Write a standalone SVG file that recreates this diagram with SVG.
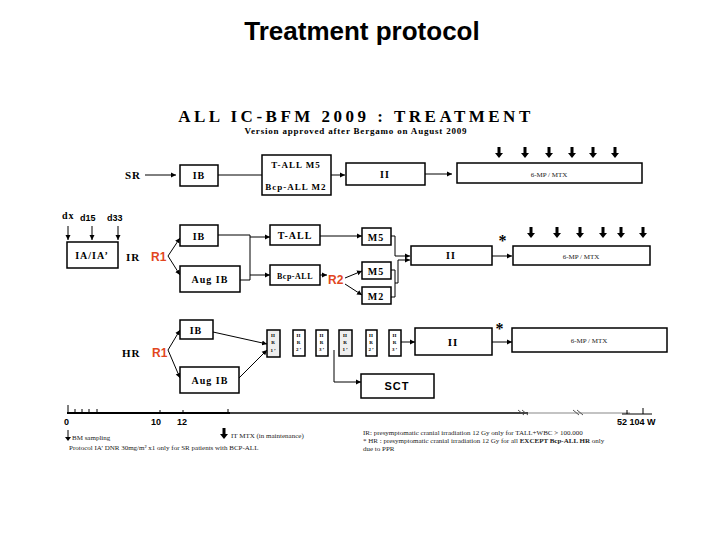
<svg xmlns="http://www.w3.org/2000/svg" width="728" height="546" viewBox="0 0 728 546">
<style>
.b{fill:#fff;stroke:#000;stroke-width:1.5}
.s{font-family:"Liberation Serif",serif;font-weight:bold;fill:#000;letter-spacing:1px}
.a{font-family:"Liberation Sans",sans-serif;font-weight:bold}
.l{fill:none;stroke:#000;stroke-width:1}
.m{marker-end:url(#ar)}
.r{fill:#e2461e;font-family:"Liberation Sans",sans-serif;font-weight:bold;font-size:12px}
.n{font-family:"Liberation Serif",serif;font-size:7px;fill:#222}
</style>
<defs>
<marker id="ar" markerWidth="6" markerHeight="6" refX="5" refY="3" orient="auto" markerUnits="userSpaceOnUse"><path d="M0,0.5L5,3L0,5.5z" fill="#000"/></marker>
<g id="da"><rect x="-1.5" y="0" width="3" height="7" fill="#000"/><path d="M-4,6L4,6L0,11z" fill="#000"/></g>
</defs>
<rect width="728" height="546" fill="#fff"/>
<text x="362" y="40" text-anchor="middle" class="a" font-size="26" fill="#000">Treatment protocol</text>
<text x="356" y="122" text-anchor="middle" class="s" font-size="17" style="letter-spacing:3.5px">ALL IC-BFM 2009 : TREATMENT</text>
<text x="356" y="134" text-anchor="middle" class="s" font-size="9" style="letter-spacing:0.8px">Version approved after Bergamo  on August 2009</text>

<g id="connectors">
<path class="l m" d="M145,175H176"/>
<path class="l" d="M218,175H262"/>
<path class="l m" d="M331,175H345"/>
<path class="l m" d="M425,174H452"/>
<path class="l m" d="M68,226V240"/>
<path class="l m" d="M92,226V240"/>
<path class="l m" d="M118,226V240"/>
<path class="l m" d="M168,256L180,238"/>
<path class="l m" d="M168,256L180,275"/>
<path class="l" d="M218,235H250V280M240,280H250"/>
<path class="l m" d="M250,237H270"/>
<path class="l m" d="M250,275H270"/>
<path class="l m" d="M320,236H362"/>
<path class="l m" d="M320,275H327"/>
<path class="l m" d="M345,278L362,271"/>
<path class="l m" d="M345,284L362,295"/>
<path class="l m" d="M391,236H395V256H410"/>
<path class="l" d="M391,270H395V297H391M395,283H398"/>
<path class="l m" d="M398,283V260H410"/>
<path class="l m" d="M492,256H512"/>
<path class="l m" d="M168,350L180,330"/>
<path class="l m" d="M168,350L180,378"/>
<path class="l m" d="M213,332L267,344"/>
<path class="l m" d="M239,378L267,350"/>
<path class="l m" d="M401,342H415"/>
<path class="l m" d="M492,342H512"/>
<path class="l m" d="M334,350V382H361"/>
</g>

<use href="#da" x="499" y="147"/><use href="#da" x="525" y="147"/><use href="#da" x="549" y="147"/><use href="#da" x="572" y="147"/><use href="#da" x="593" y="147"/><use href="#da" x="615" y="147"/>
<use href="#da" x="531" y="227"/><use href="#da" x="557" y="227"/><use href="#da" x="580" y="227"/><use href="#da" x="603" y="227"/><use href="#da" x="621" y="227"/><use href="#da" x="643" y="227"/>

<text x="125" y="179" class="s" font-size="11">SR</text>
<g id="sr-ib"><rect class="b" x="180" y="165" width="38" height="21"/><text x="199" y="179" text-anchor="middle" class="s" font-size="10">IB</text></g>
<g id="sr-m"><rect class="b" x="262" y="155" width="69" height="40"/><text x="296" y="168" text-anchor="middle" class="s" font-size="9">T-ALL  M5</text><text x="296" y="190" text-anchor="middle" class="s" font-size="9">Bcp-ALL  M2</text></g>
<g id="sr-ii"><rect class="b" x="346" y="163" width="79" height="22"/><text x="385" y="178" text-anchor="middle" class="s" font-size="10">II</text></g>
<g id="sr-mp"><rect class="b" x="457" y="163" width="185" height="20"/><text x="549" y="177" text-anchor="middle" class="n" font-size="8">6-MP / MTX</text></g>

<text x="62" y="219" class="s" font-size="10">dx</text>
<text x="80" y="221" class="a" font-size="9">d15</text>
<text x="107" y="221" class="a" font-size="9">d33</text>
<g id="ia"><rect class="b" x="67" y="242" width="51" height="26"/><text x="92" y="259" text-anchor="middle" class="s" font-size="10">IA/IA’</text></g>
<text x="126" y="261" class="s" font-size="11">IR</text>
<text x="151" y="261" class="r">R1</text>
<g id="ir-ib"><rect class="b" x="180" y="225" width="38" height="21"/><text x="199" y="240" text-anchor="middle" class="s" font-size="10">IB</text></g>
<g id="ir-aug"><rect class="b" x="180" y="266" width="60" height="26"/><text x="210" y="283" text-anchor="middle" class="s" font-size="10">Aug IB</text></g>
<g id="ir-t"><rect class="b" x="270" y="225" width="50" height="20"/><text x="295" y="239" text-anchor="middle" class="s" font-size="10">T-ALL</text></g>
<g id="ir-b"><rect class="b" x="270" y="265" width="50" height="20"/><text x="295" y="279" text-anchor="middle" class="s" font-size="8" style="letter-spacing:0.5px">Bcp-ALL</text></g>
<text x="328" y="284" class="r">R2</text>
<g id="ir-m5a"><rect class="b" x="362" y="228" width="29" height="17"/><text x="376" y="241" text-anchor="middle" class="s" font-size="10">M5</text></g>
<g id="ir-m5b"><rect class="b" x="362" y="262" width="29" height="17"/><text x="376" y="275" text-anchor="middle" class="s" font-size="10">M5</text></g>
<g id="ir-m2"><rect class="b" x="362" y="287" width="29" height="17"/><text x="376" y="300" text-anchor="middle" class="s" font-size="10">M2</text></g>
<g id="ir-ii"><rect class="b" x="411" y="246" width="81" height="19"/><text x="451" y="259" text-anchor="middle" class="s" font-size="10">II</text></g>
<text x="503" y="246" text-anchor="middle" class="s" font-size="16">*</text>
<g id="ir-mp"><rect class="b" x="513" y="246" width="137" height="19"/><text x="581" y="259" text-anchor="middle" class="n" font-size="8">6-MP / MTX</text></g>

<text x="122" y="357" class="s" font-size="11">HR</text>
<text x="152" y="357" class="r">R1</text>
<g id="hr-ib"><rect class="b" x="180" y="320" width="33" height="19"/><text x="196" y="334" text-anchor="middle" class="s" font-size="10">IB</text></g>
<g id="hr-aug"><rect class="b" x="180" y="367" width="59" height="26"/><text x="210" y="384" text-anchor="middle" class="s" font-size="10">Aug IB</text></g>
<g id="hr1"><rect class="b" x="267" y="330" width="13" height="27" style="fill:#eee"/><text x="273.5" y="337" text-anchor="middle" class="s" font-size="5">H</text><text x="273.5" y="344" text-anchor="middle" class="s" font-size="5">R</text><text x="273.5" y="352" text-anchor="middle" class="s" font-size="5">1’</text></g>
<g id="hr2"><rect class="b" x="293" y="330" width="12" height="26"/><text x="299" y="337" text-anchor="middle" class="s" font-size="5">H</text><text x="299" y="344" text-anchor="middle" class="s" font-size="5">R</text><text x="299" y="351" text-anchor="middle" class="s" font-size="5">2’</text></g>
<g id="hr3"><rect class="b" x="316" y="330" width="12" height="26"/><text x="322" y="337" text-anchor="middle" class="s" font-size="5">H</text><text x="322" y="344" text-anchor="middle" class="s" font-size="5">R</text><text x="322" y="351" text-anchor="middle" class="s" font-size="5">3’</text></g>
<g id="hr4"><rect class="b" x="339" y="330" width="13" height="26" style="fill:#eee"/><text x="345.5" y="337" text-anchor="middle" class="s" font-size="5">H</text><text x="345.5" y="344" text-anchor="middle" class="s" font-size="5">R</text><text x="345.5" y="351" text-anchor="middle" class="s" font-size="5">1’</text></g>
<g id="hr5"><rect class="b" x="366" y="330" width="11" height="26"/><text x="371.5" y="337" text-anchor="middle" class="s" font-size="5">H</text><text x="371.5" y="344" text-anchor="middle" class="s" font-size="5">R</text><text x="371.5" y="351" text-anchor="middle" class="s" font-size="5">2’</text></g>
<g id="hr6"><rect class="b" x="389" y="330" width="12" height="26"/><text x="395" y="337" text-anchor="middle" class="s" font-size="5">H</text><text x="395" y="344" text-anchor="middle" class="s" font-size="5">R</text><text x="395" y="351" text-anchor="middle" class="s" font-size="5">3’</text></g>
<g id="hr-ii"><rect class="b" x="415" y="328" width="77" height="27"/><text x="453" y="346" text-anchor="middle" class="s" font-size="11">II</text></g>
<text x="500" y="334" text-anchor="middle" class="s" font-size="16">*</text>
<g id="hr-mp"><rect class="b" x="512" y="328" width="155" height="24"/><text x="589" y="343" text-anchor="middle" class="n" font-size="8">6-MP / MTX</text></g>
<g id="sct"><rect class="b" x="361" y="374" width="73" height="24"/><text x="397" y="390" text-anchor="middle" class="a" font-size="11" letter-spacing="1">SCT</text></g>

<g id="timeline">
<path d="M67,413H230" stroke="#000" stroke-width="2"/>
<path d="M230,413H528" stroke="#000" stroke-width="1.5"/>
<path d="M528,413H630" stroke="#888" stroke-width="1.2"/>
<path d="M518,410l6,5M522,410l6,5M573,410l6,5M577,410l6,5" stroke="#555"/>
<path d="M68,405V413M75,409V413M82,409V413M89,409V413M97,409V413M160,410V413M183,410V413M228,409V413M627,410V414M643,408V414M622,414H652" stroke="#000"/>
<text x="64" y="425" class="a" font-size="9">0</text>
<text x="151" y="425" class="a" font-size="9">10</text>
<text x="177" y="425" class="a" font-size="9">12</text>
<text x="617" y="425" class="a" font-size="9">52  104 W</text>
</g>
<path d="M68,430V438" stroke="#000"/><path d="M65,437L68,441L71,437z" fill="#000"/>
<text x="72" y="440" class="n">BM sampling</text>
<use href="#da" x="224" y="428"/>
<text x="231" y="438" class="n">IT MTX (in maintenance)</text>
<text x="69" y="450" class="n">Protocol IA’    DNR 30mg/m² x1 only for SR patients with BCP-ALL</text>
<text x="363" y="435" class="n">IR:  presymptomatic cranial irradiation 12 Gy  only for TALL+WBC &gt; 100.000</text>
<text x="363" y="443" class="n">* HR : presymptomatic cranial irradiation 12 Gy for all <tspan font-weight="bold">EXCEPT Bcp-ALL HR</tspan>  only</text>
<text x="363" y="451" class="n">due to PPR</text>
</svg>
